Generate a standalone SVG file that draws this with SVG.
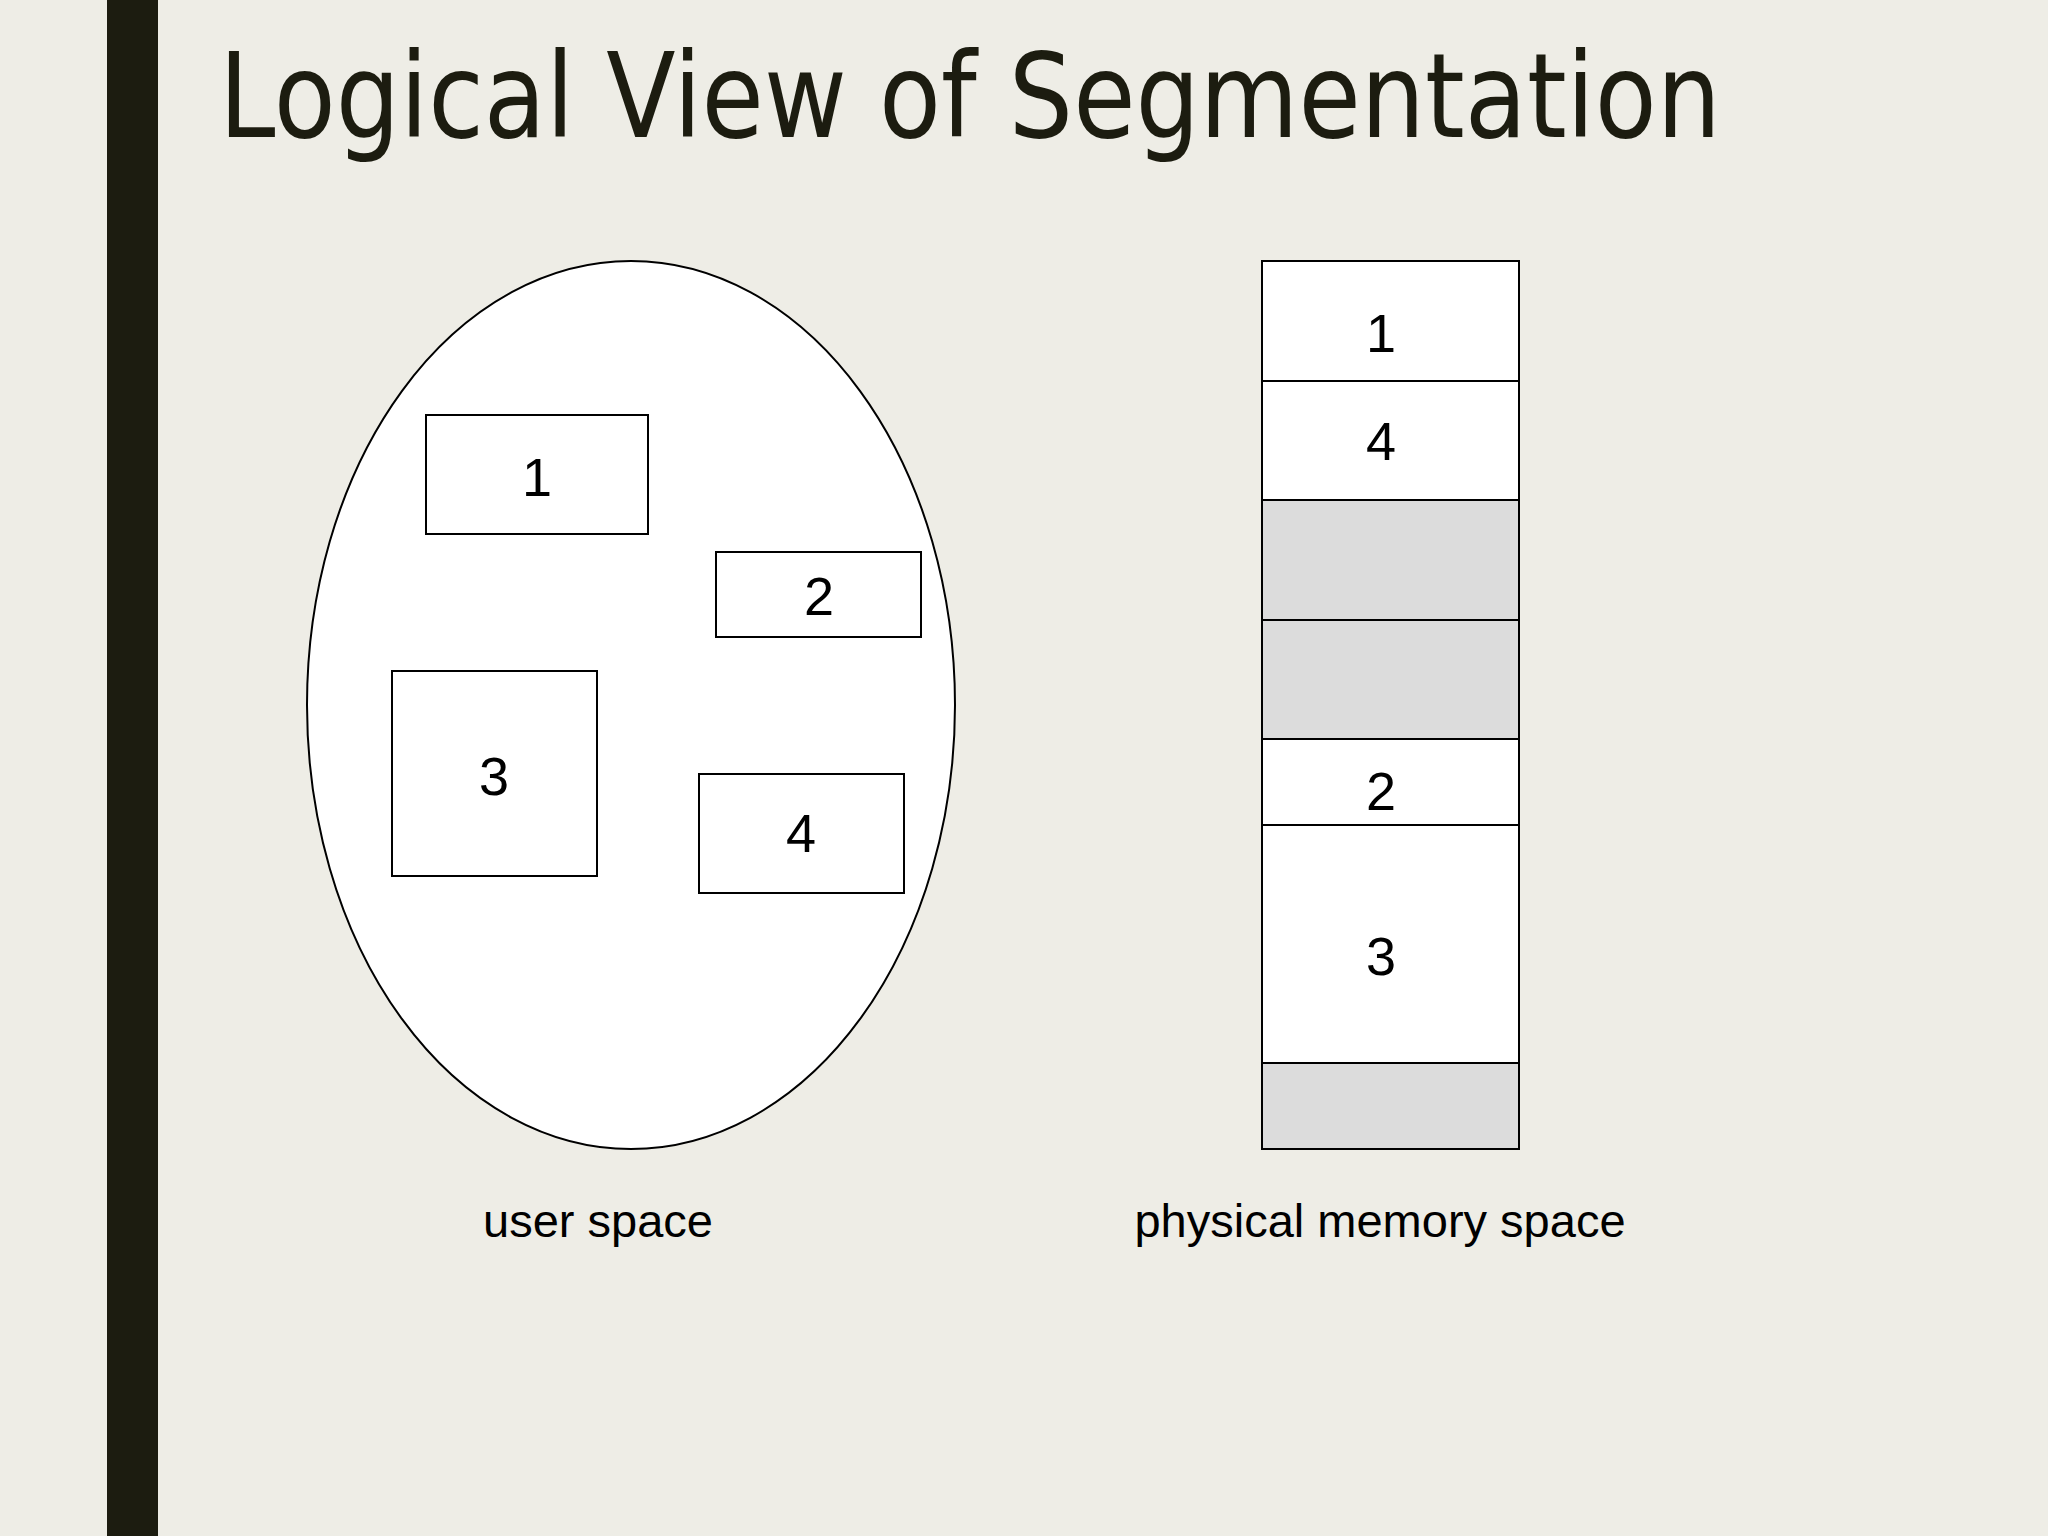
<svg xmlns="http://www.w3.org/2000/svg" width="2048" height="1536" viewBox="0 0 2048 1536">
<style>
.b{fill:#fff;stroke:#000;stroke-width:2}
.g{fill:#dcdcdc;stroke:#000;stroke-width:2}
.n{font-family:"Liberation Sans",Arial,sans-serif;font-size:54px;fill:#000;text-anchor:middle}
.c{font-family:"Liberation Sans",Arial,sans-serif;font-size:47px;fill:#000;text-anchor:middle}
</style>
<rect width="2048" height="1536" fill="#eeede6"/>
<rect x="107" y="0" width="51" height="1536" fill="#1c1c10"/>
<text x="219" y="137" font-family="DejaVu Sans,sans-serif" font-size="118" fill="#1c1c10" textLength="1502" lengthAdjust="spacingAndGlyphs">Logical View of Segmentation</text>
<g id="user-space">
<ellipse class="b" cx="631" cy="705" rx="324" ry="444"/>
<g id="u1"><rect class="b" x="426" y="415" width="222" height="119"/><text class="n" x="537" y="496">1</text></g>
<g id="u2"><rect class="b" x="716" y="552" width="205" height="85"/><text class="n" x="819" y="615">2</text></g>
<g id="u3"><rect class="b" x="392" y="671" width="205" height="205"/><text class="n" x="494" y="795">3</text></g>
<g id="u4"><rect class="b" x="699" y="774" width="205" height="119"/><text class="n" x="801" y="852">4</text></g>
</g>
<g id="memory">
<g id="m1"><rect class="b" x="1262" y="261" width="257" height="120"/><text class="n" x="1381" y="352">1</text></g>
<g id="m4"><rect class="b" x="1262" y="381" width="257" height="119"/><text class="n" x="1381" y="460">4</text></g>
<rect class="g" x="1262" y="500" width="257" height="120"/>
<rect class="g" x="1262" y="620" width="257" height="119"/>
<g id="m2"><rect class="b" x="1262" y="739" width="257" height="86"/><text class="n" x="1381" y="810">2</text></g>
<g id="m3"><rect class="b" x="1262" y="825" width="257" height="238"/><text class="n" x="1381" y="975">3</text></g>
<rect class="g" x="1262" y="1063" width="257" height="86"/>
</g>
<text class="c" x="598" y="1237">user space</text>
<text class="c" x="1380" y="1237">physical memory space</text>
</svg>
